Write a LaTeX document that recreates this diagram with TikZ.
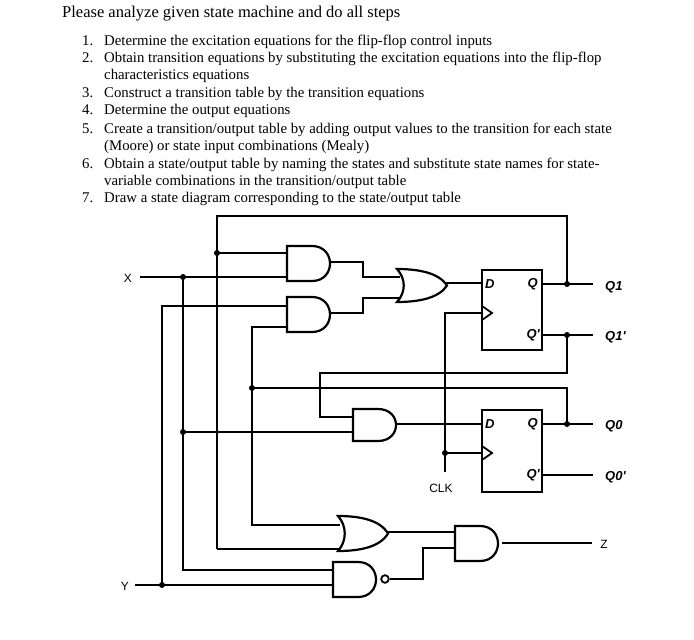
\documentclass[tikz,border=0pt]{standalone}
\usepackage{fontspec}
\setmainfont{Liberation Serif}
\newfontfamily\lsans{Liberation Sans}
\begin{document}
\begin{tikzpicture}[x=1pt,y=-1pt,
  txt/.style={anchor=base west,inner sep=0pt,font=\fontsize{14.8}{16}\selectfont},
  w/.style={line width=2.2pt},
  g/.style={line width=2.2pt,fill=white},
  dot/.style={circle,fill=black,inner sep=0pt,minimum size=6pt},
  lab/.style={font=\lsans\bfseries\itshape\fontsize{13}{14}\selectfont,inner sep=0pt},
  slab/.style={font=\lsans\fontsize{12}{13}\selectfont,inner sep=0pt}]
\useasboundingbox (0,0) rectangle (694,640);
% text
\node[txt,font=\fontsize{16.5}{18}\selectfont] (title) at (62,17) {Please analyze given state machine and do all steps};
\foreach \n/\yy in {1./45,2./62,3./97,4./114,5./133,6./168,7./202}{\node[txt] at (82,\yy) {\n};}
\node[txt] (t1) at (104,45) {Determine the excitation equations for the flip-flop control inputs};
\node[txt] (t2) at (104,62) {Obtain transition equations by substituting the excitation equations into the flip-flop};
\node[txt] (t2b) at (104,79) {characteristics equations};
\node[txt] (t3) at (104,97) {Construct a transition table by the transition equations};
\node[txt] (t4) at (104,114) {Determine the output equations};
\node[txt] (t5) at (104,133) {Create a transition/output table by adding output values to the transition for each state};
\node[txt] (t5b) at (104,150) {(Moore) or state input combinations (Mealy)};
\node[txt] (t6) at (104,168) {Obtain a state/output table by naming the states and substitute state names for state-};
\node[txt] (t6b) at (104,185) {variable combinations in the transition/output table};
\node[txt] (t7) at (104,202) {Draw a state diagram corresponding to the state/output table};
% wires
\draw[w] (140,277) -- (290,277);
\draw[w] (135,585) -- (335,585);
\draw[w] (162,585) -- (162,306) -- (290,306);
\draw[w] (183,277) -- (183,570) -- (335,570);
\draw[w] (183,432) -- (356,432);
\draw[w] (217,253) -- (290,253);
\draw[w] (217,549) -- (217,216) -- (567,216) -- (567,284);
\draw[w] (217,549) -- (340,549);
\draw[w] (290,327) -- (252,327) -- (252,525) -- (340,525);
\draw[w] (252,388) -- (567,388) -- (567,424);
\draw[w] (330,262) -- (363,262) -- (363,277) -- (400,277);
\draw[w] (330,313) -- (363,313) -- (363,298) -- (400,298);
\draw[w] (445,283) -- (482,283);
\draw[w] (542,284) -- (593,284);
\draw[w] (542,335) -- (593,335);
\draw[w] (567,335) -- (567,373) -- (320,373) -- (320,417) -- (356,417);
\draw[w] (395,424) -- (482,424);
\draw[w] (542,424) -- (593,424);
\draw[w] (542,475) -- (593,475);
\draw[w] (482,313) -- (445,313) -- (445,472);
\draw[w] (445,453) -- (482,453);
\draw[w] (384,532) -- (458,532);
\draw[w] (390,579) -- (423,579) -- (423,548) -- (458,548);
\draw[w] (502,543) -- (592,543);
% dots
\foreach \p in {(183,277),(162,585),(217,253),(252,388),(183,432),(567,284),(567,335),(567,424),(445,453)}{\node[dot] at \p {};}
% AND gates
\foreach \x/\t/\b in {287/246/281,287/297/332,353/409/441,455/526/561}{
  \draw[g] (\x,\t) -- (\x+25,\t) .. controls (\x+49,\t) and (\x+49,\b) .. (\x+25,\b) -- (\x,\b) -- cycle;}
% NAND
\draw[g] (333,562) -- (358,562) .. controls (382,562) and (382,597) .. (358,597) -- (333,597) -- cycle;
\draw[line width=1.8pt,fill=white] (385,579) circle (3.8);
% OR gates
\foreach \x/\t/\b in {397/269/302,338/516/551}{
  \draw[g] (\x,\t) .. controls (\x+22,\t) and (\x+42,\t+4) .. (\x+50,{(\t+\b)/2}) .. controls (\x+42,\b-4) and (\x+22,\b) .. (\x,\b) .. controls (\x+9,\b-10) and (\x+9,\t+10) .. (\x,\t) -- cycle;}
% flip-flops
\foreach \t/\b/\d/\c/\q/\qb in {270/350/284/313/284/335,410/492/424/453/424/475}{
  \draw[g] (482,\t) rectangle (542,\b);
  \draw[line width=1.8pt] (482,\c-7) -- (492,\c) -- (482,\c+7);
  \node[lab,anchor=west] at (485,\d) {D};
  \node[lab,anchor=east] at (538,\q) {Q};
  \node[lab,anchor=east] at (540,\qb) {Q'};}
% labels
\node[lab,anchor=west] at (605,287) {Q1};
\node[lab,anchor=west] at (605,337) {Q1'};
\node[lab,anchor=west] at (605,426) {Q0};
\node[lab,anchor=west] at (605,477) {Q0'};
\node[slab] at (128,278) {X};
\node[slab] at (125,586) {Y};
\node[slab] at (604,544) {Z};
\node[slab] at (441,488) {CLK};
\end{tikzpicture}
\end{document}
